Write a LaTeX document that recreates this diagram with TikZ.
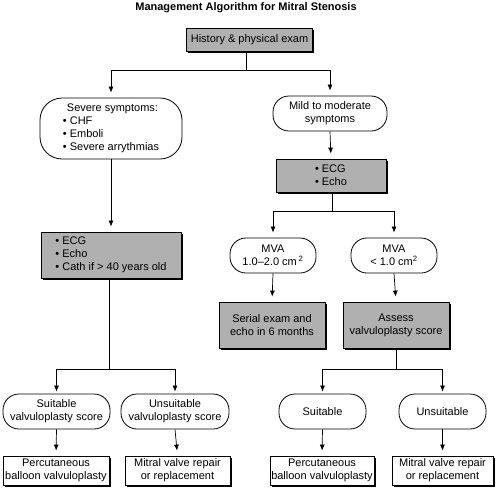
\documentclass[tikz,border=0pt]{standalone}
\usepackage{fontspec}
\setmainfont{Liberation Sans}
\usetikzlibrary{arrows.meta,shadows}
\begin{document}
\begin{tikzpicture}[x=1pt,y=-1pt,
  every node/.style={font=\fontsize{11}{13}\selectfont, inner sep=0pt, align=center},
  shadowed/.style={drop shadow={shadow xshift=1.6pt, shadow yshift=-1.6pt, fill=black, opacity=1}},
  graybox/.style={rectangle, draw, line width=0.8pt, fill=gray!62, shadowed},
  whitebox/.style={rectangle, draw, line width=0.8pt, fill=white, shadowed},
  roundbox/.style={rectangle, draw, line width=0.8pt, fill=white, rounded corners=16pt},
  conn/.style={line width=0.7pt},
  arr/.style={conn, -{Latex[length=6pt,width=5pt]}, shorten >=5pt},
  arrs/.style={conn, -{Latex[length=6pt,width=5pt]}, shorten >=2pt}
]
\useasboundingbox (0,0) rectangle (500,493);

\node[font=\bfseries\fontsize{11}{13}\selectfont] (title) at (246,8) {Management Algorithm for Mitral Stenosis};

\node[graybox, minimum width=126pt, minimum height=23pt] (hist) at (249.5,40) {History \& physical exam};

\node[roundbox, rounded corners=22pt, minimum width=142pt, minimum height=61pt, align=left] (sev) at (111,128.5)
  {\hspace*{4pt}Severe symptoms:\\\textbullet\ CHF\\\textbullet\ Emboli\\\textbullet\ Severe arrythmias};
\node[roundbox, minimum width=114pt, minimum height=35pt] (mild) at (330,113.5) {Mild to moderate\\symptoms};

\node[graybox, minimum width=110pt, minimum height=33pt, align=left] (ecgr) at (331,175.5) {\textbullet\ ECG\\\textbullet\ Echo};
\node[graybox, minimum width=140pt, minimum height=46pt, align=left] (ecgl) at (111,255)
  {\textbullet\ ECG\\\textbullet\ Echo\\\textbullet\ Cath if > 40 years old};

\node[roundbox, minimum width=86pt, minimum height=35pt] (mva1) at (273,255.5) {MVA\\1.0--2.0 cm\,\textsuperscript{2}};
\node[roundbox, minimum width=86pt, minimum height=35pt] (mva2) at (394,255.5) {MVA\\< 1.0 cm\textsuperscript{2}};

\node[graybox, minimum width=106pt, minimum height=46pt] (serial) at (272,325) {Serial exam and\\echo in 6 months};
\node[graybox, minimum width=106pt, minimum height=46pt] (assess) at (396,325) {Assess\\valvuloplasty score};

\node[roundbox, minimum width=107pt, minimum height=35pt] (s1) at (56.5,411.5) {Suitable\\valvuloplasty score};
\node[roundbox, minimum width=108pt, minimum height=35pt] (u1) at (175,411.5) {Unsuitable\\valvuloplasty score};
\node[roundbox, minimum width=87pt, minimum height=35pt] (s2) at (322.5,411.5) {Suitable};
\node[roundbox, minimum width=87pt, minimum height=35pt] (u2) at (442.5,411.5) {Unsuitable};

\node[whitebox, minimum width=106pt, minimum height=29pt] (p1) at (56,470.5) {Percutaneous\\balloon valvuloplasty};
\node[whitebox, minimum width=105pt, minimum height=29pt] (m1) at (177.5,470.5) {Mitral valve repair\\or replacement};
\node[whitebox, minimum width=104pt, minimum height=29pt] (p2) at (322,470.5) {Percutaneous\\balloon valvuloplasty};
\node[whitebox, minimum width=101pt, minimum height=29pt] (m2) at (442.5,470.5) {Mitral valve repair\\or replacement};

% junctions
\coordinate (j1) at (246,70);
\coordinate (j2) at (332,211);
\coordinate (j3) at (396,369);
\coordinate (j4) at (109,369);

\draw[conn] (hist.south -| j1) -- (j1);
\draw[arr] (j1) -| (sev.north);
\draw[arr] (j1) -| (mild.north);

\draw[arr] (mild.south) -- (ecgr.north);
\draw[arr] (sev.south) -- (ecgl.north);

\draw[conn] (ecgr.south -| j2) -- (j2);
\draw[arr] (j2) -| (mva1.north);
\draw[arr] (j2) -| (mva2.north);

\draw[arr] (mva1.south) -- (serial.north);
\draw[arr] (mva2.south) -- (assess.north);

\draw[conn] (assess.south -| j3) -- (j3);
\draw[arrs] (j3) -| (s2.north);
\draw[arrs] (j3) -| (u2.north);

\draw[conn] (ecgl.south -| j4) -- (j4);
\draw[arrs] (j4) -| (s1.north);
\draw[arrs] (j4) -| (u1.north);

\draw[arr] (s1.south) -- (p1.north);
\draw[arr] (u1.south) -- (m1.north);
\draw[arr] (s2.south) -- (p2.north);
\draw[arr] (u2.south) -- (m2.north);
\end{tikzpicture}
\end{document}
